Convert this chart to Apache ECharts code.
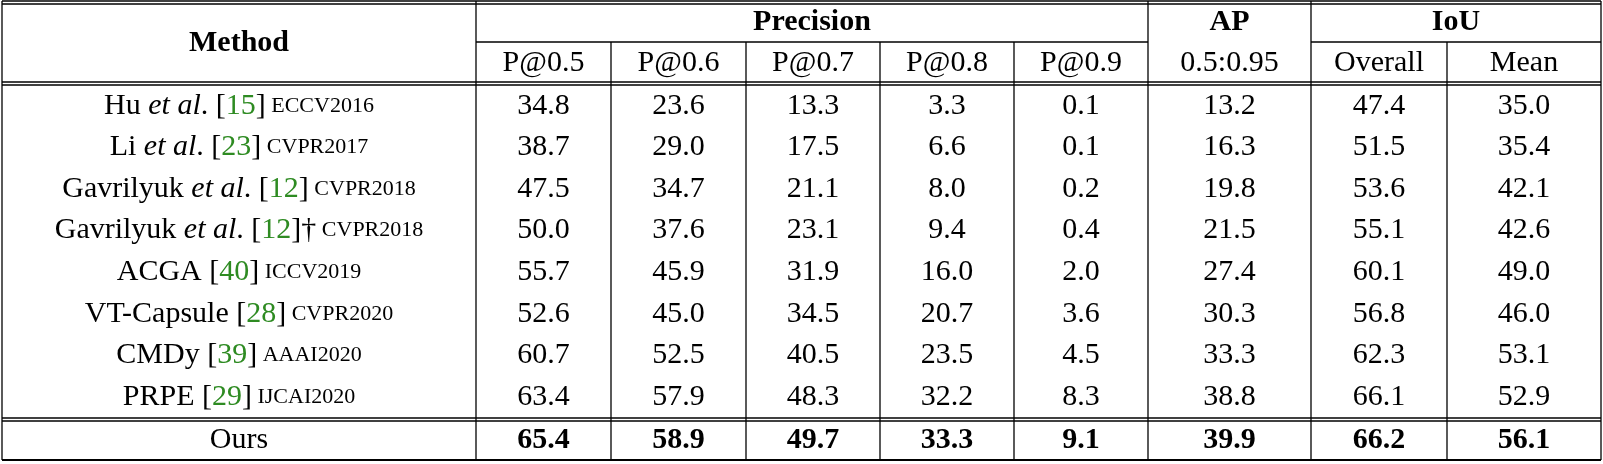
<!DOCTYPE html>
<html><head><meta charset="utf-8">
<script src="https://cdn.jsdelivr.net/npm/echarts@6/dist/echarts.min.js"></script>
<style>html,body{margin:0;background:#fff}#c{width:1603px;height:464px}</style>
</head><body><div id="c"></div>
<script>
// table data
const methodNames = ['Hu', 'Li', 'Gavrilyuk', 'Gavrilyuk', 'ACGA', 'VT-Capsule', 'CMDy', 'PRPE', 'Ours'];
const methodEtAl = [true, true, true, true, false, false, false, false, false];
const methodCites = ['15', '23', '12', '12', '40', '28', '39', '29', ''];
const methodDagger = [false, false, false, true, false, false, false, false, false];
const methodVenues = ['ECCV2016', 'CVPR2017', 'CVPR2018', 'CVPR2018', 'ICCV2019', 'CVPR2020', 'AAAI2020', 'IJCAI2020', ''];
const subHeaders = ['P@0.5', 'P@0.6', 'P@0.7', 'P@0.8', 'P@0.9', '0.5:0.95', 'Overall', 'Mean'];
const groupHeaders = [['Precision', 0, 5], ['AP', 5, 6], ['IoU', 6, 8]];
const values = [
  ['34.8', '23.6', '13.3', '3.3', '0.1', '13.2', '47.4', '35.0'],
  ['38.7', '29.0', '17.5', '6.6', '0.1', '16.3', '51.5', '35.4'],
  ['47.5', '34.7', '21.1', '8.0', '0.2', '19.8', '53.6', '42.1'],
  ['50.0', '37.6', '23.1', '9.4', '0.4', '21.5', '55.1', '42.6'],
  ['55.7', '45.9', '31.9', '16.0', '2.0', '27.4', '60.1', '49.0'],
  ['52.6', '45.0', '34.5', '20.7', '3.6', '30.3', '56.8', '46.0'],
  ['60.7', '52.5', '40.5', '23.5', '4.5', '33.3', '62.3', '53.1'],
  ['63.4', '57.9', '48.3', '32.2', '8.3', '38.8', '66.1', '52.9'],
  ['65.4', '58.9', '49.7', '33.3', '9.1', '39.9', '66.2', '56.1']
];

// layout
const colX = [2, 476, 611, 746, 880, 1014, 1148, 1311, 1447, 1601];
const rowY = [85, 126.6, 168.2, 209.8, 251.4, 293, 334.6, 376.2, 418];
const oursTop = 421, bottom = 460;
const FONT = '"Liberation Serif", "DejaVu Serif", serif';
const FS = 30;

const g = [];
const line = (x1, y1, x2, y2, w) => g.push({ type: 'line', shape: { x1, y1, x2, y2 }, style: { stroke: '#000', lineWidth: w || 1.3 } });
const text = (x, y, t, opt) => g.push({ type: 'text', x, y, style: Object.assign({ text: t, font: `${FS}px ${FONT}`, fill: '#000', align: 'center', verticalAlign: 'middle' }, opt || {}) });

// horizontal rules
line(colX[0], 1, colX[9], 1, 1.5); line(colX[0], 4, colX[9], 4, 1.5);
line(colX[1], 42, colX[6], 42); line(colX[7], 42, colX[9], 42);
line(colX[0], 82, colX[9], 82); line(colX[0], 85, colX[9], 85);
line(colX[0], 418, colX[9], 418); line(colX[0], 421, colX[9], 421);
line(colX[0], bottom, colX[9], bottom, 2);
// vertical rules
colX.forEach((x, i) => {
  if (i === 0 || i === 9 || i === 1 || i === 6 || i === 7) line(x, 1, x, bottom);
  else line(x, 42, x, bottom);
});

// headers
text((colX[0] + colX[1]) / 2, 43, 'Method', { font: `bold ${FS}px ${FONT}` });
groupHeaders.forEach(([t, a, b]) => text((colX[a + 1] + colX[b + 1]) / 2, 22, t, { font: `bold ${FS}px ${FONT}` }));
subHeaders.forEach((t, i) => text((colX[i + 1] + colX[i + 2]) / 2, 63, t));

// body
const rich = {
  n: { font: `${FS}px ${FONT}`, fill: '#000' },
  i: { font: `italic ${FS}px ${FONT}`, fill: '#000' },
  c: { font: `${FS}px ${FONT}`, fill: '#2e8b22' },
  v: { font: `22px ${FONT}`, fill: '#000' }
};
methodNames.forEach((name, r) => {
  const y0 = r < 8 ? rowY[r] : oursTop;
  const y1 = r < 8 ? rowY[r + 1] : bottom;
  const yc = (y0 + y1) / 2;
  let s = `{n|${name}}`;
  if (methodEtAl[r]) s += `{i| et al}{n|.}`;
  if (methodCites[r]) s += `{n| [}{c|${methodCites[r]}}{n|]${methodDagger[r] ? '†' : ''}}`;
  if (methodVenues[r]) s += `{v| ${methodVenues[r]}}`;
  g.push({ type: 'text', x: (colX[0] + colX[1]) / 2, y: yc, style: { text: s, rich, align: 'center', verticalAlign: 'middle' } });
  values[r].forEach((v, c) => text((colX[c + 1] + colX[c + 2]) / 2, yc, v, r === 8 ? { font: `bold ${FS}px ${FONT}` } : {}));
});

const chart = echarts.init(document.getElementById('c'));
chart.setOption({ animation: false, graphic: { elements: g } });
</script></body></html>
